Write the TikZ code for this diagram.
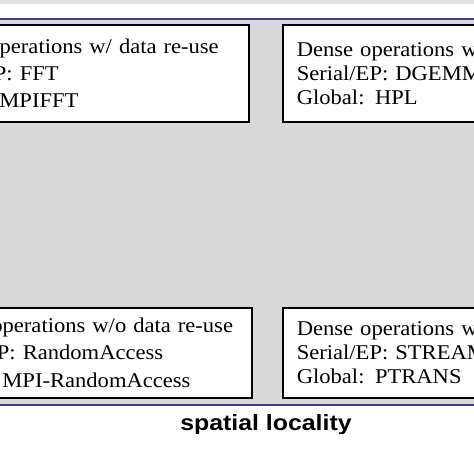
\documentclass[tikz,border=0pt]{standalone}
\usepackage{fontspec}
\newfontfamily\boxfont[FakeStretch=1.075]{Liberation Serif}
\newfontfamily\axisfont[FakeStretch=1.13]{Liberation Sans}
\definecolor{bandgray}{RGB}{226,226,226}
\definecolor{areagray}{RGB}{216,216,216}
\definecolor{frameblue}{RGB}{62,62,140}
\tikzset{
  opbox/.style={draw=black, line width=1.6pt, fill=white, text width=314pt,
    inner xsep=14pt, inner ysep=0pt, align=left, font={\fontsize{21}{24}\boxfont}},
  reusebox/.style={opbox, minimum height=97pt},
  noreusebox/.style={opbox, minimum height=90pt}
}

\begin{document}
\begin{tikzpicture}[x=1pt, y=-1pt]
\useasboundingbox (0,0) rectangle (474,474);
\clip (0,0) rectangle (474,433);

% Смуга зверху
\fill[bandgray] (0,0) rectangle (474,4);

% Сіре поле
\draw[line width=2.5pt, frameblue, fill=areagray] (-10,19) rectangle (484,405);

% Блоки з повторним використанням
\node[reusebox, anchor=north east, font={\fontsize{21}{27}\boxfont}] (sparsereuse) at (250,24)
  {Sparse operations w/ data re-use\\Serial/EP: FFT\\Global: MPIFFT};
\node[reusebox, anchor=north west] (densereuse) at (282,24)
  {Dense operations w/ data re-use\\Serial/EP: DGEMM\\Global: HPL};

% Блоки без повторного використання
\node[noreusebox, anchor=north east, font={\fontsize{21}{27.5}\boxfont}] (sparsenoreuse) at (253,307)
  {Sparse operations w/o data re-use\\Serial/EP: RandomAccess\\Global: MPI-RandomAccess};
\node[noreusebox, anchor=north west] (densenoreuse) at (282,307)
  {Dense operations w/o data re-use\\Serial/EP: STREAM\\Global: PTRANS};

% Підпис осі
\node[anchor=base, font={\fontsize{22}{26}\axisfont\bfseries}] (locality) at (266,430) {spatial locality};

\end{tikzpicture}
\end{document}
